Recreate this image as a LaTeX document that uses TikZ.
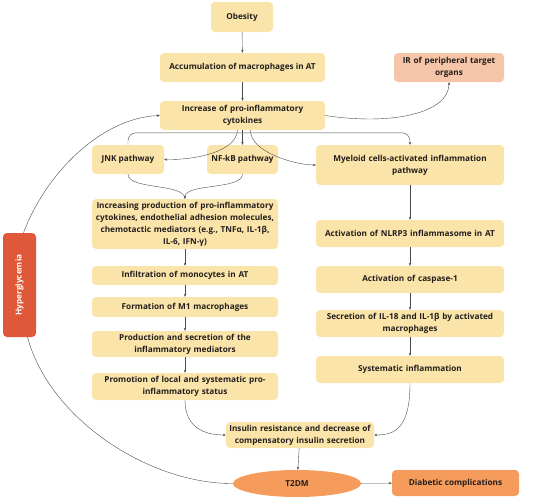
\documentclass[tikz,border=0pt]{standalone}
\usepackage{fontspec}
\setmainfont{Open Sans}
\usetikzlibrary{shapes.geometric,arrows.meta}

\definecolor{sand}{RGB}{250,228,170}
\definecolor{salmon}{RGB}{246,196,166}
\definecolor{brick}{RGB}{224,88,58}
\definecolor{tangerine}{RGB}{245,156,92}
\definecolor{ink}{RGB}{34,30,28}

\begin{document}
\begin{tikzpicture}[x=1pt,y=-1pt,
  box/.style={fill=sand,rounded corners=4pt,align=center,inner sep=2pt,
    text=ink,font=\bfseries\fontsize{8.2}{12}\selectfont},
  link/.style={draw=black!70,line width=0.4pt,-{Stealth[length=3pt,width=2.4pt]}},
  plain/.style={draw=black!70,line width=0.4pt}]
  \useasboundingbox (0,0) rectangle (550,501);

  % main column
  \node[box,minimum width=62,minimum height=30] (obesity) at (242,17) {Obesity};
  \node[box,minimum width=165,minimum height=29] (accum) at (242.5,67.5) {Accumulation of macrophages in AT};
  \node[box,fill=salmon,text width=106,minimum height=29] (ir) at (449,67.5) {IR of peripheral target\\organs};
  \node[box,text width=161,minimum height=29] (incr) at (242.5,115.5) {Increase of pro-inflammatory\\cytokines};

  % pathways
  \node[box,minimum width=72,minimum height=29] (jnk) at (128,159.5) {JNK pathway};
  \node[box,minimum width=71,minimum height=29] (nfkb) at (242.5,159.5) {NF-kB pathway};
  \node[box,text width=184,minimum height=40] (myeloid) at (410,165) {Myeloid cells-activated inflammation\\pathway};

  % left branch
  \node[box,text width=182,minimum height=50] (incprod) at (185,224) {Increasing production of pro-inflammatory\\cytokines, endothelial adhesion molecules,\\chemotactic mediators (e.g., TNFα, IL-1β,\\IL-6, IFN-γ)};
  \node[box,text width=182,minimum height=19] (infil) at (185,275.5) {Infiltration of monocytes in AT};
  \node[box,text width=182,minimum height=20] (form) at (185,307) {Formation of M1 macrophages};
  \node[box,text width=182,minimum height=26] (prodsec) at (185,344) {Production and secretion of the\\inflammatory mediators};
  \node[box,text width=182,minimum height=27] (promo) at (185,386.5) {Promotion of local and systematic pro-\\inflammatory status};

  % right branch
  \node[box,text width=184,minimum height=27] (nlrp) at (410,233.5) {Activation of NLRP3 inflammasome in AT};
  \node[box,text width=184,minimum height=27] (casp) at (410,279.5) {Activation of caspase-1};
  \node[box,text width=184,minimum height=27] (secr) at (410,323.5) {Secretion of IL-18 and IL-1β by activated\\macrophages};
  \node[box,text width=184,minimum height=27] (syst) at (410,369.5) {Systematic inflammation};

  % outcome
  \node[box,text width=144,minimum height=26] (insulin) at (300,435) {Insulin resistance and decrease of\\compensatory insulin secretion};
  \node[box,ellipse,fill=tangerine,minimum width=128,minimum height=27,inner sep=0pt] (t2dm) at (297,483.5) {T2DM};
  \node[box,fill=tangerine,minimum width=127,minimum height=26] (diab) at (455.5,483) {Diabetic complications};
  \node[box,fill=brick,text=white,rotate=90,minimum width=104,minimum height=33] (hyper) at (19.5,285) {Hyperglycemia};

  % connectors
  \draw[link] (obesity) -- (accum);
  \draw[link] (accum) -- (incr);
  \draw[link] (incr.east) .. controls (395,126) and (449,112) .. (ir.south);
  \draw[link] ([xshift=-5pt]incr.south) .. controls (236,152) and (195,160) .. (jnk.east);
  \draw[link] (incr) -- (nfkb);
  \draw[link] ([xshift=8pt]incr.south) .. controls (250,152) and (295,165) .. (myeloid.west);
  \draw[link,rounded corners=8pt] (jnk.north) -- ++(0,-12) -| (myeloid.north);

  \draw[plain] (jnk.south) .. controls (128,190) and (185,183) .. (incprod.north);
  \draw[link] (nfkb.south) .. controls (242,190) and (185,183) .. (incprod.north);
  \draw[link] (incprod) -- (infil);
  \draw[link] (infil) -- (form);
  \draw[link] (form) -- (prodsec);
  \draw[link] (prodsec) -- (promo);

  \draw[link] (myeloid) -- (nlrp);
  \draw[link] (nlrp) -- (casp);
  \draw[link] (casp) -- (secr);
  \draw[link] (secr) -- (syst);

  \draw[link] (promo.south) .. controls (185,428) and (205,435) .. (insulin.west);
  \draw[link] (syst.south) .. controls (410,428) and (395,435) .. (insulin.east);
  \draw[link] (insulin) -- (t2dm);
  \draw[link] (t2dm) -- (diab);

  \draw[plain] (t2dm.west) .. controls (150,484) and (50,420) .. ([xshift=8pt]hyper.west);
  \draw[link] ([xshift=4pt]hyper.east) .. controls (45,175) and (100,118) .. (incr.west);
\end{tikzpicture}
\end{document}
